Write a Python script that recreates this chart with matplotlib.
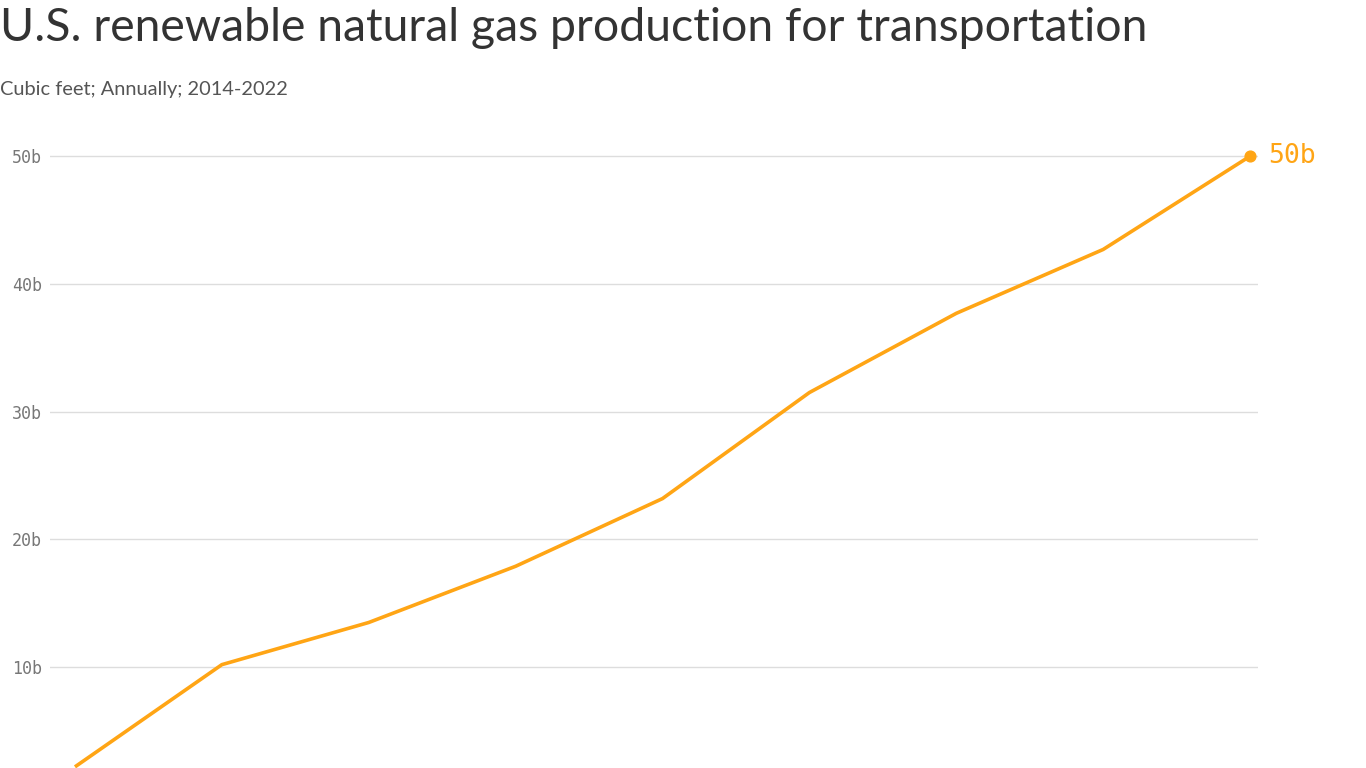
import matplotlib
matplotlib.use("Agg")
import matplotlib.pyplot as plt

years = [2014, 2015, 2016, 2017, 2018, 2019, 2020, 2021, 2022]
volume_b = [2.2, 10.2, 13.5, 17.9, 23.2, 31.5, 37.7, 42.7, 50.0]
y_ticks = [10, 20, 30, 40, 50]

W, H = 1366, 768
fig = plt.figure(figsize=(W / 100, H / 100), dpi=100)
ax = fig.add_axes([50 / W, 0, (1258 - 50) / W, (768 - 130) / H])

orange = "#ffa515"
ax.plot(years, volume_b, color=orange, linewidth=2.6, solid_capstyle="butt", clip_on=False)
ax.scatter([years[-1]], [volume_b[-1]], color=orange, s=60, zorder=5, clip_on=False)
ax.text(years[-1] + 0.12, volume_b[-1], f"{volume_b[-1]:.0f}b", color=orange,
        fontsize=19, family="DejaVu Sans Mono", va="center", ha="left")

ax.set_xlim(2013.83, 2022.054)
ax.set_ylim(2.11, 52.05)
ax.set_yticks(y_ticks)
ax.set_yticklabels([f"{v}b" for v in y_ticks], family="DejaVu Sans Mono",
                   fontsize=12, color="#777777")
ax.tick_params(axis="y", length=0, pad=6)
ax.set_xticks([])
ax.grid(axis="y", color="#dddddd", linewidth=1)
for s in ax.spines.values():
    s.set_visible(False)

fig.text(0, 1 - 28 / H, "U.S. renewable natural gas production for transportation",
         fontsize=33.4, family="Lato", color="#333333", va="center", ha="left")
fig.text(0, 1 - 90 / H, "Cubic feet; Annually; 2014-2022",
         fontsize=14.4, family="Lato", color="#555555", va="center", ha="left")

fig.savefig("out.png", dpi=100)
